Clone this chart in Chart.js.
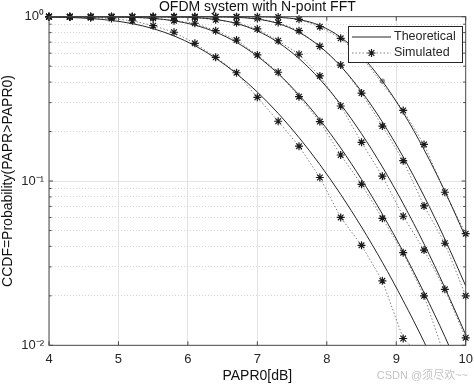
<!DOCTYPE html>
<html>
<head>
<meta charset="utf-8">
<script src="https://cdn.jsdelivr.net/npm/chart.js@4.4.1/dist/chart.umd.min.js"></script>
<style>
  html, body { margin: 0; padding: 0; background: #fff; }
  #wrap { width: 474px; height: 387px; position: relative; }
</style>
</head>
<body>
<div id="wrap"><canvas id="ccdf-chart"></canvas></div>
<script>
// PAPR0 grid (dB)
const paprDb = [4.0, 4.3, 4.6, 4.9, 5.2, 5.5, 5.8, 6.1, 6.4, 6.7, 7.0, 7.3, 7.6, 7.9, 8.2, 8.5, 8.8, 9.1, 9.4, 9.7, 10.0];

// Theoretical CCDF (N = 64 ... 1024)
const theoN64   = [0.9956, 0.9888, 0.9748, 0.9492, 0.9072, 0.8457, 0.7643, 0.6665, 0.5590, 0.4501, 0.3478, 0.2581, 0.1838, 0.1259, 0.0829, 0.0525, 0.0320, 0.0187, 0.0105, 0.0056, 0.0029];
const theoN128  = [1.0, 0.9999, 0.9994, 0.9974, 0.9914, 0.9762, 0.9444, 0.8888, 0.8055, 0.6977, 0.5747, 0.4496, 0.3338, 0.2359, 0.1589, 0.1022, 0.0629, 0.0371, 0.0209, 0.0113, 0.0058];
const theoN256  = [1.0, 1.0, 1.0, 1.0, 0.9999, 0.9994, 0.9969, 0.9876, 0.9622, 0.9086, 0.8191, 0.6970, 0.5562, 0.4161, 0.2925, 0.1940, 0.1219, 0.0728, 0.0414, 0.0224, 0.0116];
const theoN512  = [1.0, 1.0, 1.0, 1.0, 1.0, 1.0, 1.0, 0.9998, 0.9986, 0.9916, 0.9673, 0.9082, 0.8031, 0.6591, 0.4995, 0.3504, 0.2289, 0.1402, 0.0810, 0.0443, 0.0230];
const theoN1024 = [1.0, 1.0, 1.0, 1.0, 1.0, 1.0, 1.0, 1.0, 1.0, 0.9999, 0.9989, 0.9916, 0.9612, 0.8838, 0.7495, 0.5780, 0.4054, 0.2608, 0.1555, 0.0866, 0.0454];

// Simulated CCDF, read off the asterisk markers
const simN64   = [1.0, 0.995, 0.985, 0.975, 0.945, 0.882, 0.804, 0.689, 0.566, 0.456, 0.323, 0.231, 0.163, 0.105, 0.060, 0.0406, 0.0247, 0.0110, 0.0082, 0.003, 0.001];
const simN128  = [1.0, 1.0, 1.0, 0.998, 0.993, 0.978, 0.946, 0.912, 0.822, 0.721, 0.585, 0.459, 0.326, 0.230, 0.144, 0.0955, 0.0593, 0.0366, 0.0200, 0.0085, 0.004];
const simN256  = [1.0, 1.0, 1.0, 1.0, 1.0, 0.999, 0.997, 0.990, 0.958, 0.919, 0.842, 0.714, 0.591, 0.436, 0.286, 0.172, 0.107, 0.0610, 0.0380, 0.0219, 0.0111];
const simN512  = [1.0, 1.0, 1.0, 1.0, 1.0, 1.0, 1.0, 1.0, 0.999, 0.995, 0.975, 0.922, 0.822, 0.660, 0.508, 0.343, 0.216, 0.133, 0.0705, 0.0418, 0.0200];
const simN1024 = [1.0, 1.0, 1.0, 1.0, 1.0, 1.0, 1.0, 1.0, 1.0, 1.0, 0.999, 0.995, 0.964, 0.869, 0.739, 0.570, null, 0.269, 0.167, 0.0854, 0.0478];

// the lone grey data-tip dot
const tipX = [8.8];
const tipY = [0.406];

const xTicks = [4, 5, 6, 7, 8, 9, 10];
const yMajorTicks = [0.01, 0.1, 1];
const yTickLabels = ['10\u207B\u00B2', '10\u207B\u00B9', '10\u2070'];
const yMinorSteps = [2, 3, 4, 5, 6, 7, 8, 9];
const legendLabels = ['Theoretical', 'Simulated'];

Chart.defaults.font.family = "'Liberation Sans', Arial, sans-serif";
Chart.defaults.color = '#262626';

const isMajor = (v) => Math.abs(Math.log10(v) - Math.round(Math.log10(v))) < 1e-6;
const toPoints = (ys) => paprDb.map((x, i) => ({ x, y: ys[i] }));

const theoStyle = {
    borderColor: '#262626',
    borderWidth: 1,
    pointRadius: 0,
    cubicInterpolationMode: 'monotone',
    clip: { left: 6, top: 6, right: 6, bottom: 0 }
};
const simStyle = {
    borderColor: '#808080',
    borderWidth: 1,
    borderDash: [1.5, 2],
    pointStyle: 'star',
    pointRadius: 4,
    pointBorderColor: '#1a1a1a',
    pointBorderWidth: 1.2,
    tension: 0,
    spanGaps: true,
    clip: { left: 6, top: 6, right: 6, bottom: 0 }
};

const datasets = [
    { label: 'Theoretical N=64', data: toPoints(theoN64), ...theoStyle },
    { label: 'Theoretical N=128', data: toPoints(theoN128), ...theoStyle },
    { label: 'Theoretical N=256', data: toPoints(theoN256), ...theoStyle },
    { label: 'Theoretical N=512', data: toPoints(theoN512), ...theoStyle },
    { label: 'Theoretical N=1024', data: toPoints(theoN1024), ...theoStyle },
    { label: 'Simulated N=64', data: toPoints(simN64), ...simStyle },
    { label: 'Simulated N=128', data: toPoints(simN128), ...simStyle },
    { label: 'Simulated N=256', data: toPoints(simN256), ...simStyle },
    { label: 'Simulated N=512', data: toPoints(simN512), ...simStyle },
    { label: 'Simulated N=1024', data: toPoints(simN1024), ...simStyle },
    {
        label: 'tip',
        data: tipX.map((x, i) => ({ x, y: tipY[i] })),
        showLine: false,
        pointRadius: 2.6,
        pointBackgroundColor: '#8c8c80',
        pointBorderColor: '#8c8c80',
        pointBorderWidth: 0
    }
];

// Matlab-style box with inward ticks
const axesFrame = {
    id: 'axesFrame',
    afterDatasetsDraw(chart) {
        const { ctx, chartArea: a, scales: { x, y } } = chart;
        ctx.save();
        ctx.strokeStyle = '#4a4a4a';
        ctx.lineWidth = 1;
        ctx.beginPath();
        x.ticks.forEach(t => {
            const px = x.getPixelForValue(t.value);
            ctx.moveTo(px, a.bottom); ctx.lineTo(px, a.bottom - 4);
            ctx.moveTo(px, a.top); ctx.lineTo(px, a.top + 4);
        });
        y.ticks.forEach(t => {
            const py = y.getPixelForValue(t.value);
            const len = isMajor(t.value) ? 4 : 2.5;
            ctx.moveTo(a.left, py); ctx.lineTo(a.left + len, py);
            ctx.moveTo(a.right, py); ctx.lineTo(a.right - len, py);
        });
        ctx.stroke();
        ctx.strokeRect(a.left, a.top, a.right - a.left, a.bottom - a.top);
        ctx.restore();
    }
};

// boxed legend in the upper right corner
const legendBox = {
    id: 'legendBox',
    afterDatasetsDraw(chart) {
        const { ctx } = chart;
        const x0 = 348, y0 = 26, w = 114, h = 36;
        ctx.save();
        ctx.fillStyle = '#fff';
        ctx.fillRect(x0, y0, w, h);
        ctx.strokeStyle = '#262626';
        ctx.lineWidth = 1;
        ctx.strokeRect(x0 + 0.5, y0 + 0.5, w, h);

        const rows = [y0 + 11, y0 + 27];
        ctx.beginPath();
        ctx.moveTo(352, rows[0]); ctx.lineTo(391, rows[0]);
        ctx.stroke();

        ctx.strokeStyle = '#808080';
        ctx.setLineDash([1.5, 2]);
        ctx.beginPath();
        ctx.moveTo(352, rows[1]); ctx.lineTo(391, rows[1]);
        ctx.stroke();
        ctx.setLineDash([]);
        ctx.strokeStyle = '#1a1a1a';
        ctx.lineWidth = 1.2;
        Chart.helpers.drawPoint(ctx, { pointStyle: 'star', radius: 4, rotation: 0, borderWidth: 1.2 }, 371.5, rows[1]);

        ctx.fillStyle = '#262626';
        ctx.font = "12.5px 'Liberation Sans', Arial, sans-serif";
        ctx.textBaseline = 'middle';
        ctx.fillText(legendLabels[0], 394, rows[0]);
        ctx.fillText(legendLabels[1], 394, rows[1]);
        ctx.restore();
    }
};

const watermark = {
    id: 'watermark',
    afterDraw(chart) {
        const { ctx } = chart;
        ctx.save();
        ctx.fillStyle = '#c4c4c4';
        ctx.font = "11px 'Liberation Sans', 'Noto Sans CJK SC', sans-serif";
        ctx.textAlign = 'right';
        ctx.textBaseline = 'middle';
        ctx.fillText('CSDN @须尽欢~~', 468, 375.5);
        ctx.restore();
    }
};

new Chart(document.getElementById('ccdf-chart'), {
    type: 'line',
    data: { datasets },
    options: {
        responsive: true,
        maintainAspectRatio: false,
        animation: false,
        layout: { padding: { top: 0, right: 8.3, bottom: 0, left: 0 } },
        plugins: {
            legend: { display: false },
            tooltip: { enabled: false },
            title: {
                display: true,
                fullSize: false,
                text: 'OFDM system with N-point FFT',
                font: { size: 14, weight: 'normal', lineHeight: 1 },
                color: '#111',
                padding: { top: 0, bottom: 2.7 }
            }
        },
        scales: {
            x: {
                type: 'linear',
                min: 4,
                max: 10,
                afterFit: (scale) => {
                    scale.height = 41.7;
                    scale.paddingLeft = 0;
                    scale.paddingRight = 0;
                },
                afterBuildTicks: (scale) => { scale.ticks = xTicks.map(v => ({ value: v })); },
                ticks: { padding: 6, font: { size: 13 }, color: '#262626', maxRotation: 0, autoSkip: false },
                grid: { color: '#e3e3e3', lineWidth: 1, drawTicks: false },
                border: { display: false },
                title: { display: true, text: 'PAPR0[dB]', font: { size: 14 }, color: '#111', padding: { top: 0, bottom: 2 } }
            },
            y: {
                type: 'logarithmic',
                min: 0.01,
                max: 1,
                afterFit: (scale) => {
                    scale.width = 49;
                    scale.paddingTop = 0;
                    scale.paddingBottom = 0;
                },
                afterBuildTicks: (scale) => {
                    const vals = [];
                    yMajorTicks.forEach((m, i) => {
                        vals.push(m);
                        if (i < yMajorTicks.length - 1) yMinorSteps.forEach(s => vals.push(+(m * s).toPrecision(6)));
                    });
                    scale.ticks = vals.map(v => ({ value: v }));
                },
                ticks: {
                    autoSkip: false,
                    padding: 5,
                    font: { size: 13 },
                    color: '#262626',
                    callback: (v) => {
                        const idx = yMajorTicks.findIndex(m => Math.abs(m - v) < 1e-9);
                        return idx >= 0 ? yTickLabels[idx] : '';
                    }
                },
                grid: {
                    drawTicks: false,
                    lineWidth: 1,
                    color: (c) => (c.tick && isMajor(c.tick.value)) ? '#e3e3e3' : '#d6d6d6'
                },
                border: {
                    display: false,
                    dash: (c) => (c.tick && isMajor(c.tick.value)) ? [] : [1, 2]
                },
                title: { display: true, text: 'CCDF=Probability(PAPR>PAPR0)', font: { size: 14 }, color: '#111', padding: { top: 0, bottom: 0 } }
            }
        }
    },
    plugins: [legendBox, axesFrame, watermark]
});
</script>
</body>
</html>
